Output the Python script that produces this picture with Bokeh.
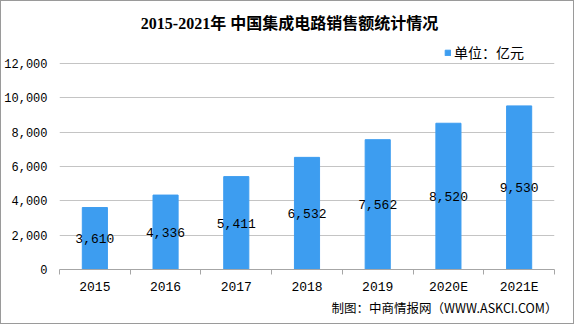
from bokeh.plotting import figure
from bokeh.models import FixedTicker, NumeralTickFormatter, Label, Range1d, ColumnDataSource, Title
from bokeh.core.properties import value
from bokeh.embed import file_html
from bokeh.resources import INLINE

categories = ["2015", "2016", "2017", "2018", "2019", "2020E", "2021E"]
values = [3610, 4336, 5411, 6532, 7562, 8520, 9530]
value_labels = ["3,610", "4,336", "5,411", "6,532", "7,562", "8,520", "9,530"]
y_ticks = [0, 2000, 4000, 6000, 8000, 10000, 12000]

title_text = "2015-2021年 中国集成电路销售额统计情况"
legend_text = "单位：亿元"
source_text = "制图：中商情报网（WWW.ASKCI.COM）"

BAR = "#3d9df0"
NUMF = "Liberation Mono"
CJK = "'Liberation Serif', 'Noto Sans CJK SC'"

# frame spans from canvas top to the x axis; 12000 sits 206px above the axis
FRAME_H = 268
Y_END = 12000 * FRAME_H / 206

xs = [i + 0.5 for i in range(len(categories))]
src = ColumnDataSource(dict(x=xs, top=values, mid=[v / 2 for v in values], lab=value_labels))

p = figure(width=574, height=324, output_backend="svg", toolbar_location=None,
           x_range=Range1d(0, len(categories)), y_range=Range1d(0, Y_END),
           min_border_left=57, min_border_right=21, min_border_top=0, min_border_bottom=56)
p.outline_line_color = None
p.background_fill_color = "white"
p.border_fill_color = "white"
p.styles = {"border": "1px solid #9a9a9a"}

p.vbar(x="x", top="top", width=0.355, bottom=0, color=BAR, source=src, legend_label=legend_text)
p.text(x="x", y="mid", text="lab", source=src, text_align="center", text_baseline="middle",
       text_font=value(NUMF), text_font_size="13px", text_color="black")

p.xgrid.visible = False
p.ygrid.grid_line_color = "#c4c4c4"
p.ygrid.ticker = FixedTicker(ticks=y_ticks)

p.yaxis.ticker = FixedTicker(ticks=y_ticks)
p.yaxis.formatter = NumeralTickFormatter(format="0,0")
p.yaxis.axis_line_color = None
p.yaxis.major_tick_line_color = None
p.yaxis.minor_tick_line_color = None
p.yaxis.major_label_text_font = NUMF
p.yaxis.major_label_text_font_size = "12px"
p.yaxis.major_label_text_color = "black"
p.yaxis.major_label_standoff = 6

p.xaxis.ticker = FixedTicker(ticks=xs, minor_ticks=list(range(len(categories) + 1)))
p.xaxis.major_label_overrides = {x: c for x, c in zip(xs, categories)}
p.xaxis.axis_line_color = "#a6a6a6"
p.xaxis.major_tick_line_color = None
p.xaxis.minor_tick_line_color = "#a6a6a6"
p.xaxis.minor_tick_out = 5
p.xaxis.minor_tick_in = 0
p.xaxis.major_label_text_font = NUMF
p.xaxis.major_label_text_font_size = "13px"
p.xaxis.major_label_text_color = "black"
p.xaxis.major_label_standoff = 4

leg = p.legend[0]
leg.location = (385, 207)
leg.orientation = "horizontal"
leg.glyph_width = 7
leg.glyph_height = 7
leg.label_standoff = 3
leg.padding = 0
leg.margin = 0
leg.border_line_color = None
leg.background_fill_alpha = 0
leg.label_text_font = "Noto Sans CJK SC"
leg.label_text_font_size = "14px"
leg.label_text_color = "black"
leg.label_height = 20

# screen units: relative to the frame's bottom-left corner
p.add_layout(Label(x=230, y=246, x_units="screen", y_units="screen", text=title_text,
                   text_font=CJK, text_font_size="16px", text_font_style="bold",
                   text_color="black", text_align="center", text_baseline="middle"))

src_title = Title(text=source_text, align="right", text_font="Noto Sans CJK SC",
                  text_font_size="12.5px", text_font_style="normal", text_color="black",
                  offset=-3, standoff=-4)
p.add_layout(src_title, "below")

open("out.html", "w").write(file_html(p, INLINE))
